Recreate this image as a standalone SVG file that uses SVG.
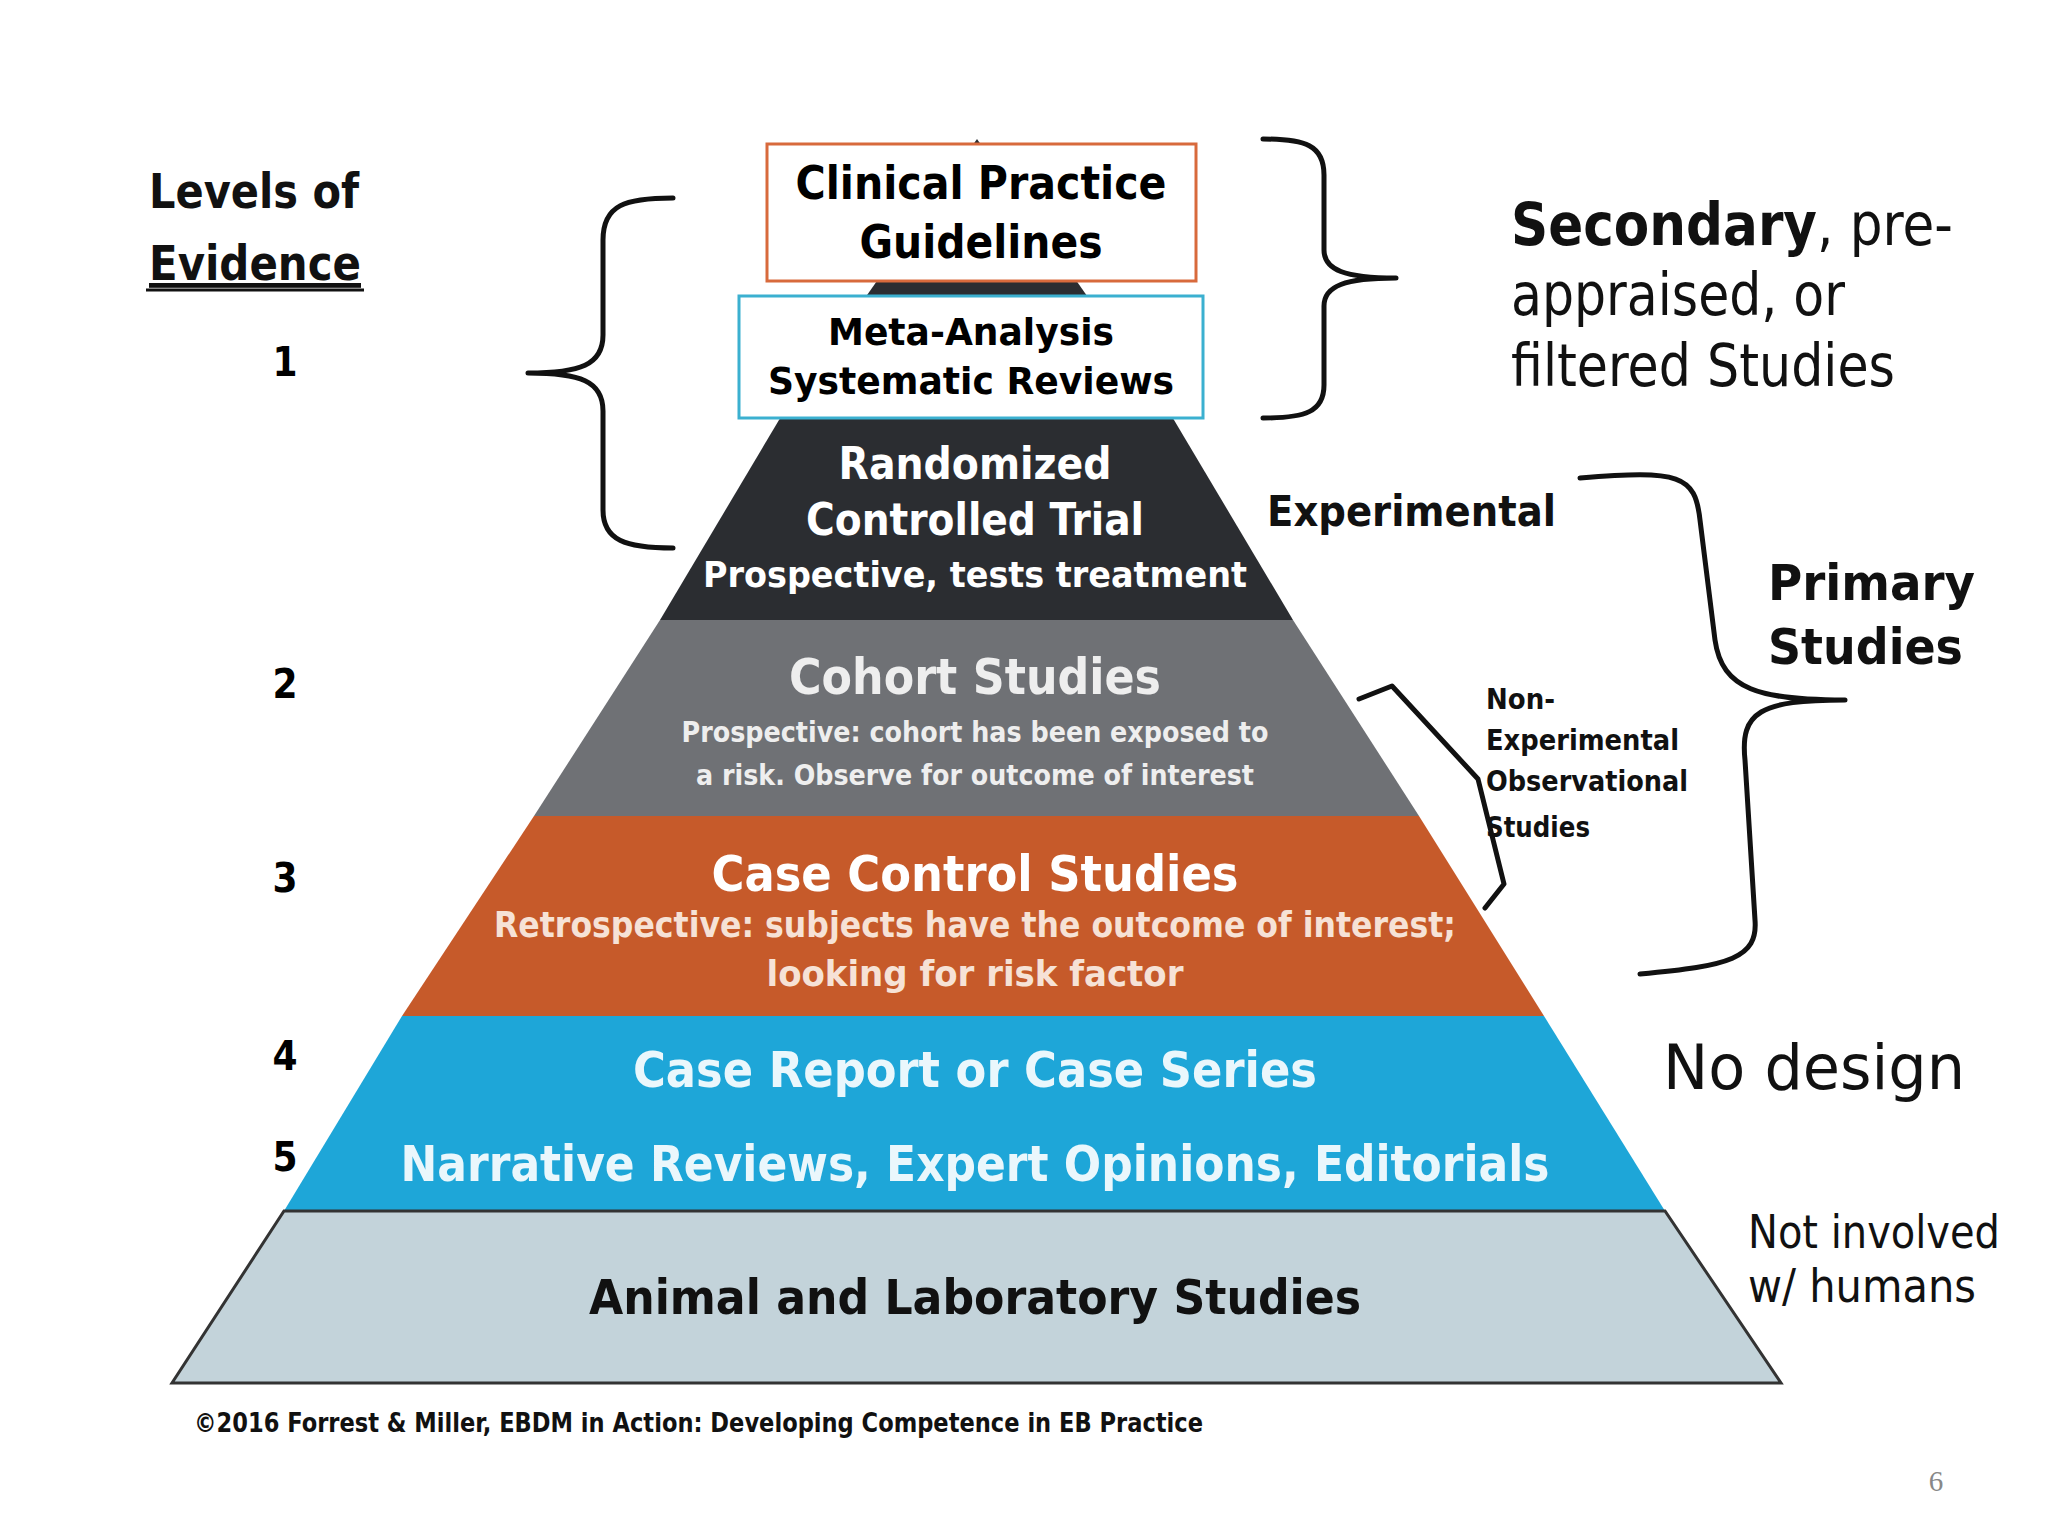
<svg xmlns="http://www.w3.org/2000/svg" width="2048" height="1536" viewBox="0 0 2048 1536">
<style>
text{font-family:"DejaVu Sans Condensed","DejaVu Sans",sans-serif;}
.b{font-weight:bold}
.c{text-anchor:middle}
.w{fill:#ffffff}
.br{fill:none;stroke:#111;stroke-width:5;stroke-linejoin:round;stroke-linecap:round}
</style>
<rect width="2048" height="1536" fill="#ffffff"/>
<g id="pyramid">
<polygon id="apex" points="977,139 779,420 1174,420" fill="#2b2d31"/>
<polygon id="rct" points="779,420 1174,420 1293,620 660,620" fill="#2b2d31"/>
<polygon id="cohort" points="660,620 1293,620 1419,816 534,816" fill="#6f7175"/>
<polygon id="casecontrol" points="534,816 1419,816 1544,1016 402,1016" fill="#c65a2a"/>
<polygon id="casereport" points="402,1016 1544,1016 1665,1211 284,1211" fill="#1ea6d8"/>
<polygon id="animal" points="284,1211 1665,1211 1781,1383 172,1383" fill="#c3d3da" stroke="#333" stroke-width="3"/>
</g>
<g id="cpg"><rect x="767" y="144" width="429" height="137" fill="#fff" stroke="#d86a3c" stroke-width="3"/>
<text x="981" y="199" class="b c" font-size="46" textLength="371" lengthAdjust="spacingAndGlyphs">Clinical Practice</text>
<text x="981" y="258" class="b c" font-size="46" textLength="243" lengthAdjust="spacingAndGlyphs">Guidelines</text></g>
<g id="meta"><rect x="739" y="296" width="464" height="122" fill="#fff" stroke="#3bb0d0" stroke-width="3"/>
<text x="971" y="345" class="b c" font-size="38" textLength="286" lengthAdjust="spacingAndGlyphs">Meta-Analysis</text>
<text x="971" y="394" class="b c" font-size="38" textLength="406" lengthAdjust="spacingAndGlyphs">Systematic Reviews</text></g>
<g id="rct-text" class="w">
<text x="975" y="479" class="b c w" font-size="44" textLength="273" lengthAdjust="spacingAndGlyphs">Randomized</text>
<text x="975" y="535" class="b c w" font-size="44" textLength="338" lengthAdjust="spacingAndGlyphs">Controlled Trial</text>
<text x="975" y="587" class="b c w" font-size="36" textLength="544" lengthAdjust="spacingAndGlyphs">Prospective, tests treatment</text></g>
<g id="cohort-text">
<text x="975" y="694" class="b c" fill="#eeeeee" font-size="50" textLength="372" lengthAdjust="spacingAndGlyphs">Cohort Studies</text>
<text x="975" y="742" class="b c" fill="#eeeeee" font-size="29" textLength="587" lengthAdjust="spacingAndGlyphs">Prospective: cohort has been exposed to</text>
<text x="975" y="785" class="b c" fill="#eeeeee" font-size="29" textLength="558" lengthAdjust="spacingAndGlyphs">a risk. Observe for outcome of interest</text></g>
<g id="cc-text">
<text x="975" y="891" class="b c w" font-size="50" textLength="527" lengthAdjust="spacingAndGlyphs">Case Control Studies</text>
<text x="975" y="937" class="b c" fill="#f6e2d6" font-size="36" textLength="962" lengthAdjust="spacingAndGlyphs">Retrospective: subjects have the outcome of interest;</text>
<text x="975" y="986" class="b c" fill="#f6e2d6" font-size="36" textLength="417" lengthAdjust="spacingAndGlyphs">looking for risk factor</text></g>
<g id="cr-text">
<text x="975" y="1087" class="b c" fill="#eaf7fc" font-size="50" textLength="684" lengthAdjust="spacingAndGlyphs">Case Report or Case Series</text>
<text x="975" y="1181" class="b c" fill="#eaf7fc" font-size="50" textLength="1149" lengthAdjust="spacingAndGlyphs">Narrative Reviews, Expert Opinions, Editorials</text></g>
<g id="animal-text"><text x="975" y="1314" class="b c" fill="#111" font-size="48" textLength="772" lengthAdjust="spacingAndGlyphs">Animal and Laboratory Studies</text></g>
<g id="levels">
<text x="149" y="208" class="b" font-size="48" fill="#111" textLength="210" lengthAdjust="spacingAndGlyphs">Levels of</text>
<text x="149" y="280" class="b" font-size="48" fill="#111" textLength="212" lengthAdjust="spacingAndGlyphs" text-decoration="underline">Evidence</text>
<line x1="146" y1="290" x2="364" y2="290" stroke="#111" stroke-width="3"/>
<text x="285" y="376" class="b c" font-size="40">1</text>
<text x="285" y="698" class="b c" font-size="40">2</text>
<text x="285" y="892" class="b c" font-size="40">3</text>
<text x="285" y="1070" class="b c" font-size="40">4</text>
<text x="285" y="1171" class="b c" font-size="40">5</text></g>
<g id="connectors">
<path class="br" d="M673,198 C625,198 603,205 603,240 L603,335 C603,365 580,373 528,373 C580,373 603,381 603,411 L603,510 C603,540 625,548 673,548"/>
<path class="br" d="M1263,139 C1305,139 1324,145 1324,175 L1324,250 C1324,270 1345,278 1396,278 C1345,278 1324,286 1324,306 L1324,385 C1324,412 1305,418 1263,418"/>
<path class="br" d="M1580,478 C1680,470 1695,475 1700,520 L1715,640 C1722,690 1760,700 1845,700 C1760,700 1740,712 1745,760 L1755,920 C1758,958 1730,966 1640,974"/>
<path class="br" d="M1359,699 L1392,686 L1478,779 L1504,884 L1485,908"/>
</g>
<g id="labels">
<text x="1511" y="245" font-size="58" fill="#111" textLength="442" lengthAdjust="spacingAndGlyphs"><tspan class="b">Secondary</tspan>, pre-</text>
<text x="1511" y="315" font-size="58" fill="#111" textLength="334" lengthAdjust="spacingAndGlyphs">appraised, or</text>
<text x="1511" y="386" font-size="58" fill="#111" textLength="384" lengthAdjust="spacingAndGlyphs">filtered Studies</text>
<text x="1267" y="526" class="b" font-size="42" fill="#111" textLength="289" lengthAdjust="spacingAndGlyphs">Experimental</text>
<text x="1768" y="600" class="b" font-size="50" fill="#111" textLength="207" lengthAdjust="spacingAndGlyphs">Primary</text>
<text x="1768" y="664" class="b" font-size="50" fill="#111" textLength="195" lengthAdjust="spacingAndGlyphs">Studies</text>
<text x="1486" y="709" class="b" font-size="29" fill="#111" textLength="69" lengthAdjust="spacingAndGlyphs">Non-</text>
<text x="1486" y="750" class="b" font-size="29" fill="#111" textLength="193" lengthAdjust="spacingAndGlyphs">Experimental</text>
<text x="1486" y="791" class="b" font-size="29" fill="#111" textLength="202" lengthAdjust="spacingAndGlyphs">Observational</text>
<text x="1486" y="837" class="b" font-size="29" fill="#111" textLength="104" lengthAdjust="spacingAndGlyphs">Studies</text>
<text x="1663" y="1089" font-size="63" fill="#111" textLength="302" lengthAdjust="spacingAndGlyphs">No design</text>
<text x="1748" y="1248" font-size="47" fill="#111" textLength="252" lengthAdjust="spacingAndGlyphs">Not involved</text>
<text x="1748" y="1302" font-size="47" fill="#111" textLength="228" lengthAdjust="spacingAndGlyphs">w/ humans</text>
<text x="194" y="1432" class="b" font-size="26" fill="#111" textLength="1009" lengthAdjust="spacingAndGlyphs">©2016 Forrest &amp; Miller, EBDM in Action: Developing Competence in EB Practice</text>
<text x="1936" y="1491" font-family="Liberation Serif,serif" style="font-family:'Liberation Serif',serif" font-size="29" fill="#888" text-anchor="middle">6</text>
</g>
</svg>
